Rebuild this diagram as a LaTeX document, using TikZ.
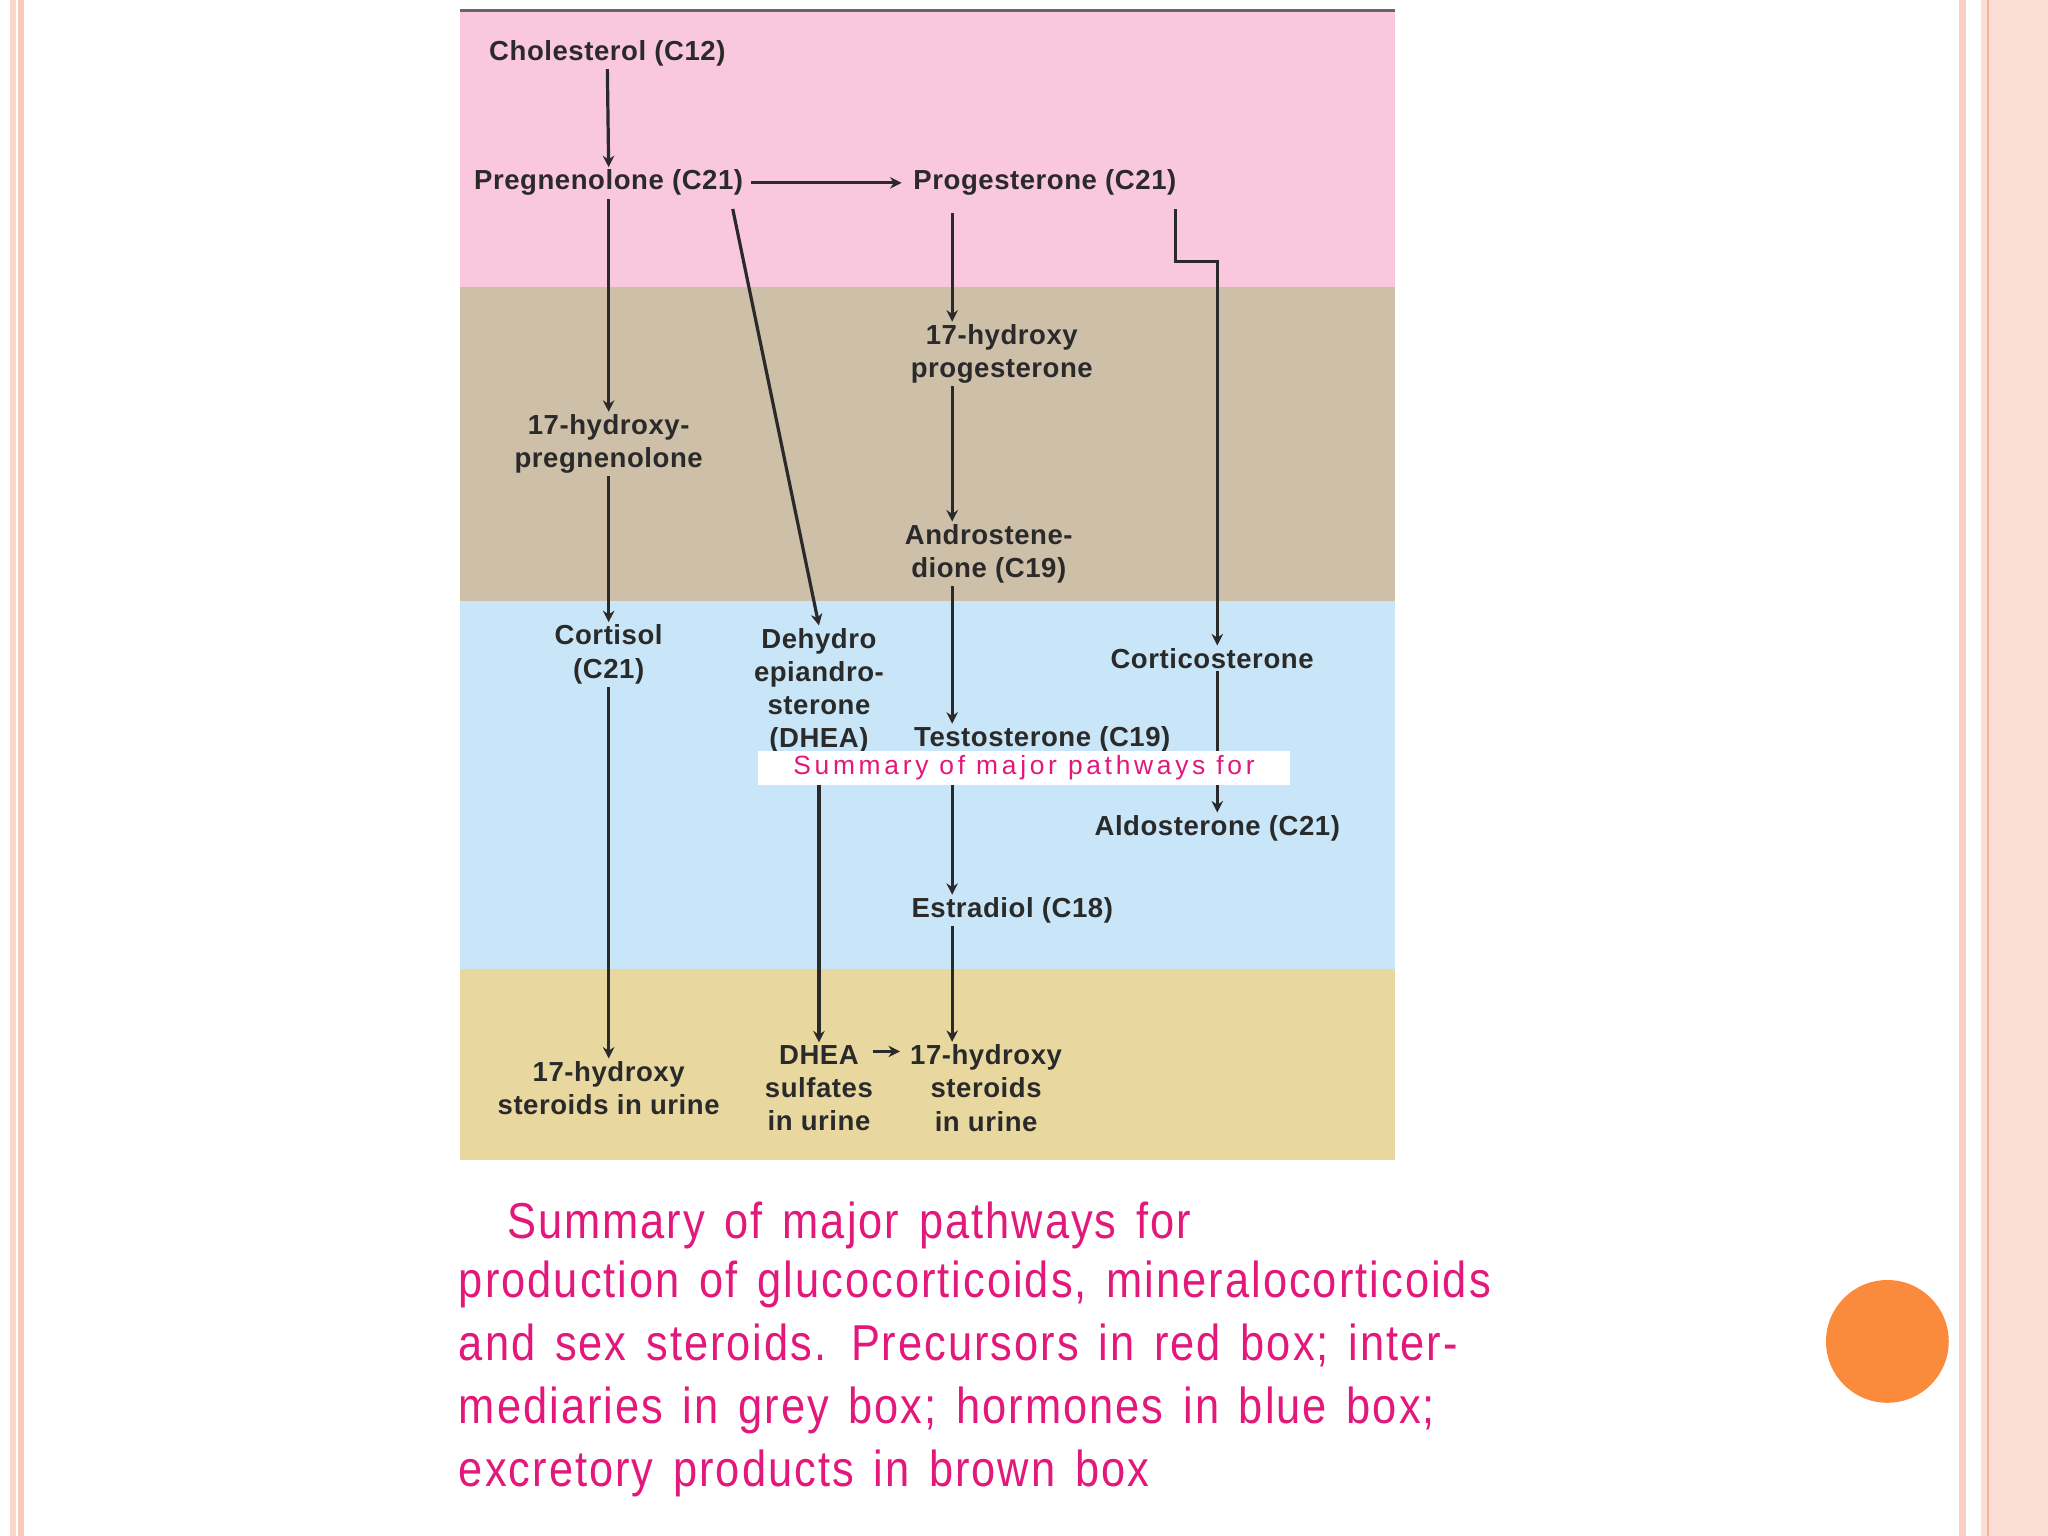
\documentclass[tikz,border=0pt]{standalone}
\usepackage{fontspec}
\setmainfont{Liberation Sans}
\newfontfamily\capfont[FakeStretch=0.86,LetterSpace=4,WordSpace=1.4]{Liberation Sans}
\usetikzlibrary{arrows.meta}
\definecolor{bpink}{HTML}{F9C8DF}
\definecolor{btan}{HTML}{CDBFA8}
\definecolor{bblue}{HTML}{C8E6F7}
\definecolor{byel}{HTML}{E8D8A0}
\definecolor{txt}{HTML}{2A2A2A}
\definecolor{cpink}{HTML}{E2187A}
\definecolor{salmon}{HTML}{F5B09A}
\definecolor{dot}{HTML}{FA8A3C}
\begin{document}
\begin{tikzpicture}[x=0.02cm,y=-0.02cm,
  lbl/.style={font=\bfseries\fontsize{12}{14.5}\selectfont\addfontfeature{LetterSpace=2},text=txt,align=center,inner sep=1pt},
  arr/.style={draw=txt,line width=1.4pt,-{Stealth[length=5pt,width=5pt]}},
  capt/.style={font=\capfont\fontsize{22}{27.5}\selectfont,text=cpink,align=left,inner sep=0pt}]
\useasboundingbox (0,0) rectangle (1568,1176);
% frame
\fill[salmon!50] (8,0) rectangle (12,1176);
\fill[salmon!70] (14,0) rectangle (18,1176);
\fill[salmon!60] (1500,0) rectangle (1505,1176);
\fill[salmon!40] (1517,0) rectangle (1568,1176);
\draw[salmon,line width=1pt] (1522,0) -- (1522,1176);
\fill[dot] (1445,1027) circle (47);
% bands
\fill[bpink] (352,8) rectangle (1068,220);
\fill[btan] (352,220) rectangle (1068,460);
\fill[bblue] (352,460) rectangle (1068,742);
\fill[byel] (352,742) rectangle (1068,888);
\draw[gray!80!black,line width=1.5pt] (352,8) -- (1068,8);
% nodes
\node[lbl] (chol) at (465,41) {Cholesterol (C12)};
\node[lbl] (preg) at (466,140) {Pregnenolone (C21)};
\node[lbl] (prog) at (800,140) {Progesterone (C21)};
\node[lbl] (hp) at (767,271) {17-hydroxy\\progesterone};
\node[lbl] (hpreg) at (466,340) {17-hydroxy-\\pregnenolone};
\node[lbl] (andro) at (757,424) {Androstene-\\dione (C19)};
\node[lbl] (cort) at (466,501) {Cortisol\\(C21)};
\node[lbl] (dhea) at (627,529) {Dehydro\\epiandro-\\sterone\\(DHEA)};
\node[lbl] (cortico) at (928,504) {Corticosterone};
\node[lbl] (testo) at (798,566) {Testosterone (C19)};
\node[lbl] (aldo) at (932,634) {Aldosterone (C21)};
\node[lbl] (estra) at (775,697) {Estradiol (C18)};
\node[lbl] (u1) at (466,833) {17-hydroxy\\steroids in urine};
\node[lbl] (dheas) at (627,833) {DHEA\\sulfates\\in urine};
\node[lbl] (u2) at (755,833) {17-hydroxy\\steroids\\in urine};
\coordinate (da) at (668,805);
\coordinate (db) at (689,805);
% overlay label
\node[fill=white,minimum width=408*0.02cm,minimum height=26*0.02cm,inner sep=0pt,
  font=\fontsize{11.5}{12}\selectfont\addfontfeature{LetterSpace=14},text=cpink] (ov) at (784,588) {Summary of major pathways for};
% arrows
\draw[arr] (chol.south) -- (preg.north);
\draw[arr] (preg.east) ++(4,0) -- ([xshift=-4]prog.west);
\draw[arr] (preg.south) -- (hpreg.north);
\draw[arr] (hpreg.south) -- (cort.north);
\draw[arr] (cort.south) -- (u1.north);
\draw[arr] (561,160) -- (dhea.north);
\draw[arr] (ov.south -| dhea) -- (dheas.north);
\draw[arr] (da) -- (db);
\draw[arr] (729,163) -- (hp.north -| 729,0);
\draw[arr] (hp.south -| 729,0) -- (andro.north -| 729,0);
\draw[arr] (andro.south -| 729,0) -- (testo.north -| 729,0);
\draw[arr] (ov.south -| 729,0) -- (estra.north -| 729,0);
\draw[arr] (estra.south -| 729,0) -- (u2.north -| 729,0);
\draw[arr] (900,160) -- (900,200) -- (932,200) -- (cortico.north -| 932,0);
\draw[draw=txt,line width=1.4pt] (cortico.south -| 932,0) -- (ov.north -| 932,0);
\draw[arr] (ov.south -| 932,0) -- (aldo.north -| 932,0);
% caption
\node[capt,anchor=north west] (c1) at (388,920) {Summary of major pathways for};
\node[capt,anchor=north west] (c2) at (351,965)
 {production of glucocorticoids, mineralocorticoids\\and sex steroids. Precursors in red box; inter-\\mediaries in grey box; hormones in blue box;\\excretory products in brown box};
\end{tikzpicture}
\end{document}
